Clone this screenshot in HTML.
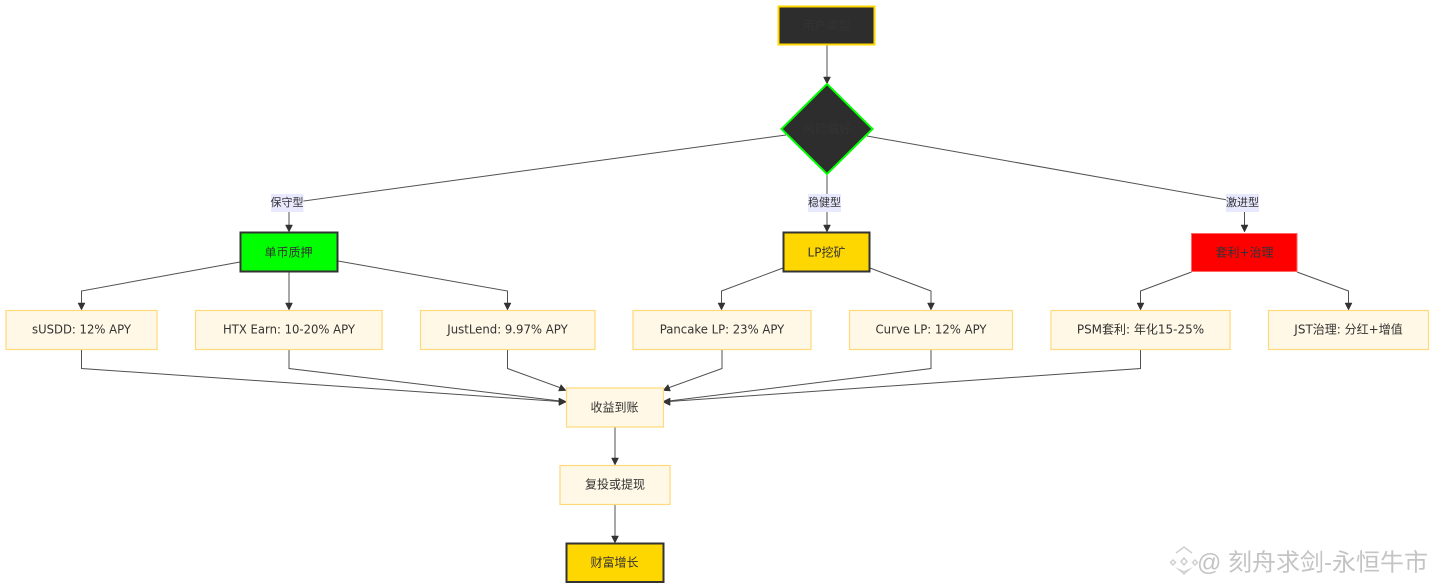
<!DOCTYPE html>
<html><head><meta charset="utf-8"><style>
html,body{margin:0;padding:0;background:#fff;width:1436px;height:588px;overflow:hidden}
svg{display:block}
text{font-family:"DejaVu Sans","Noto Sans CJK SC",sans-serif;font-size:12px;fill:#333;text-anchor:middle;dominant-baseline:central}
.e{fill:none;stroke:#333;stroke-width:1;opacity:.85}
.a{fill:#333;stroke:#333;stroke-width:.5}
.n{fill:#fff8e6;stroke:#ffd97a;stroke-width:1.2}
.l{fill:#e8e8ff}
.t{font-size:11px}
</style></head><body>
<svg width="1436" height="588" viewBox="0 0 1436 588" xmlns="http://www.w3.org/2000/svg">
<!-- edges -->
<path class="e" d="M827 45V78"/>
<path class="e" d="M786 135L289 203V226"/>
<path class="e" d="M827 174V226"/>
<path class="e" d="M867 136L1244.500 203V226"/>
<path class="e" d="M240 262L81.500 291V304"/>
<path class="e" d="M289 272V304"/>
<path class="e" d="M338 261L507.500 291V304"/>
<path class="e" d="M783 268L721.500 291V304"/>
<path class="e" d="M870 268L931 291V304"/>
<path class="e" d="M1191.500 272L1140.500 291V304"/>
<path class="e" d="M1297 272L1348.500 291V304"/>
<path class="e" d="M81.500 349V368.500L560 401.500"/>
<path class="e" d="M289 349V368.500L560 401"/>
<path class="e" d="M507.500 349V368.500L561 388"/>
<path class="e" d="M722 349V368.500L668 388"/>
<path class="e" d="M931 349V368.500L669 401"/>
<path class="e" d="M1140.500 349V368.500L669 401.500"/>
<path class="e" d="M615 427V459"/>
<path class="e" d="M615 504V537"/>
<!-- arrowheads -->
<g class="a">
<polygon points="823.500,77 830.500,77 827,84"/>
<polygon points="285.500,225 292.500,225 289,232"/>
<polygon points="823.500,225 830.500,225 827,232"/>
<polygon points="1241,225 1248,225 1244.500,232"/>
<polygon points="78,303 85,303 81.500,310"/>
<polygon points="285.500,303 292.500,303 289,310"/>
<polygon points="504,303 511,303 507.500,310"/>
<polygon points="718,303 725,303 721.500,310"/>
<polygon points="927.500,303 934.500,303 931,310"/>
<polygon points="1137,303 1144,303 1140.500,310"/>
<polygon points="1345,303 1352,303 1348.500,310"/>
<polygon points="566,402 559,398.500 559,405.500"/>
<polygon points="566,401.500 559,398 559,405"/>
<polygon points="566,390.500 561,384.500 558.500,391"/>
<polygon points="663,390.500 668,384.500 670.500,391"/>
<polygon points="663,401.500 670,398 670,405"/>
<polygon points="663,402 670,398.500 670,405.500"/>
<polygon points="611.500,458 618.500,458 615,465"/>
<polygon points="611.500,536 618.500,536 615,543"/>
</g>
<!-- decision and start -->
<rect x="778.500" y="6.500" width="96" height="38" fill="#2d2d2d" stroke="#ffd700" stroke-width="2"/>
<text x="826.500" y="25.500">用户类型</text>
<polygon points="827,84 872.500,129 827,174 781.500,129" fill="#2d2d2d" stroke="#00ff00" stroke-width="2"/>
<text x="827" y="129">风险偏好</text>
<!-- labels -->
<rect class="l" x="271" y="194" width="32.500" height="18"/>
<text class="t" x="287" y="202.500">保守型</text>
<rect class="l" x="808" y="194" width="33" height="18"/>
<text class="t" x="824.500" y="202.500">稳健型</text>
<rect class="l" x="1226" y="194" width="33" height="18"/>
<text class="t" x="1242.500" y="202.500">激进型</text>
<!-- level 2 -->
<rect x="240.500" y="232.500" width="97" height="39" fill="#00ff00" stroke="#333" stroke-width="2"/>
<text x="288.500" y="252.500">单币质押</text>
<rect x="783.500" y="232.500" width="86" height="39" fill="#ffd700" stroke="#333" stroke-width="2"/>
<text x="826.500" y="252.500">LP挖矿</text>
<rect x="1191.500" y="233.500" width="105.500" height="38" fill="#ff0000" stroke="#ff6666" stroke-width="1"/>
<text x="1244.500" y="252.500">套利+治理</text>
<!-- level 3 -->
<rect class="n" x="6" y="310.500" width="151" height="39"/>
<text x="81.500" y="329.500" textLength="99" lengthAdjust="spacingAndGlyphs">sUSDD: 12% APY</text>
<rect class="n" x="195.500" y="310.500" width="186.500" height="39"/>
<text x="289" y="329.500" textLength="132" lengthAdjust="spacingAndGlyphs">HTX Earn: 10-20% APY</text>
<rect class="n" x="420.500" y="310.500" width="174.500" height="39"/>
<text x="507.500" y="329.500" textLength="120.500" lengthAdjust="spacingAndGlyphs">JustLend: 9.97% APY</text>
<rect class="n" x="633" y="310.500" width="178" height="39"/>
<text x="722" y="329.500" textLength="124.500" lengthAdjust="spacingAndGlyphs">Pancake LP: 23% APY</text>
<rect class="n" x="849.500" y="310.500" width="163" height="39"/>
<text x="931" y="329.500" textLength="111" lengthAdjust="spacingAndGlyphs">Curve LP: 12% APY</text>
<rect class="n" x="1051" y="310.500" width="179" height="39"/>
<text x="1140.500" y="329.500">PSM套利: 年化15-25%</text>
<rect class="n" x="1268.500" y="310.500" width="160" height="39"/>
<text x="1348.500" y="329.500">JST治理: 分红+增值</text>
<!-- bottom -->
<rect class="n" x="566.500" y="388" width="97" height="39"/>
<text x="614.500" y="407.500">收益到账</text>
<rect class="n" x="560" y="465.500" width="110" height="39"/>
<text x="615" y="484.500">复投或提现</text>
<rect x="566.500" y="543.500" width="97" height="38.500" fill="#ffd700" stroke="#333" stroke-width="2"/>
<text x="614.500" y="562.500">财富增长</text>
<!-- watermark -->
<g fill="none" stroke="#cfcfcf" stroke-width="1.500">
<polyline points="1176,553 1184,547 1192,553"/>
<polygon points="1173,560 1170.500,562.500 1173,565 1175.500,562.500"/>
<polygon points="1184,558 1181,561.500 1184,565 1187,561.500"/>
<polygon points="1195,560 1192.500,562.500 1195,565 1197.500,562.500"/>
</g>
<polygon points="1175,567 1184,575 1193,567 1184,571" fill="#d4d4d4"/>
<text x="1428" y="563" style="font-size:24px;fill:#c4c4c4;text-anchor:end;font-family:'Liberation Sans','Noto Sans CJK SC',sans-serif">@ 刻舟求剑-永恒牛市</text>
</svg>
</body></html>
